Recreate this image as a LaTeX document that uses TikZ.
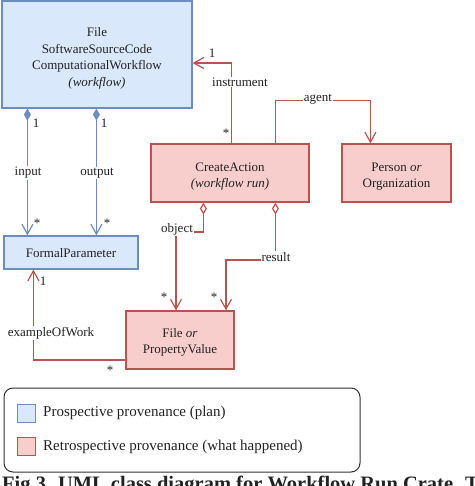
\documentclass[tikz,border=0pt]{standalone}
\usepackage{fontspec}
\setmainfont{Liberation Serif}
\usetikzlibrary{arrows.meta}
\definecolor{bfill}{HTML}{DAE8FC}
\definecolor{bline}{HTML}{6C8EBF}
\definecolor{rfill}{HTML}{F8CECC}
\definecolor{rline}{HTML}{B85450}
\definecolor{txt}{HTML}{222222}
\newcommand{\boxtext}[2][3pt]{\raisebox{-#1}[\height][\depth]{\begin{tabular}{@{}c@{}}#2\end{tabular}}}
\begin{document}
\begin{tikzpicture}[x=1pt,y=-1pt,
  every node/.style={font=\fontsize{13}{16.5}\selectfont, text=txt},
  bluebox/.style={draw=bline, fill=bfill, line width=1.2pt, inner sep=0pt, align=center},
  redbox/.style={draw=rline, fill=rfill, line width=1.2pt, inner sep=0pt, align=center},
  bluecon/.style={draw=bline, line width=1.2pt},
  redcon/.style={draw=rline, line width=1.2pt},
  opentip/.style={-{Straight Barb[length=10pt,width=11pt]}},
  lbl/.style={fill=white, inner sep=1pt},
  mult/.style={inner sep=0pt},
  legtext/.style={anchor=west, inner sep=0pt, font=\fontsize{15}{18}\selectfont},
]
\useasboundingbox (0,0) rectangle (474,486);
% classes
\node[bluebox, minimum width=190pt, minimum height=107pt] (top) at (97,54.5)
  {\boxtext[3.5pt]{File\\SoftwareSourceCode\\ComputationalWorkflow\\\textit{(workflow)}}};
\node[bluebox, minimum width=134pt, minimum height=33pt] (fp) at (71,252.5) {\boxtext[1.5pt]{FormalParameter}};
\node[redbox, minimum width=158pt, minimum height=58pt] (ca) at (230,173)
  {\boxtext{CreateAction\\\textit{(workflow run)}}};
\node[redbox, minimum width=109pt, minimum height=58pt] (pn) at (396.5,173)
  {\boxtext{Person \textit{or}\\Organization}};
\node[redbox, minimum width=108pt, minimum height=58pt] (fo) at (180,340)
  {\boxtext[2pt]{File \textit{or}\\PropertyValue}};
% input / output
\draw[bluecon, {Diamond[length=12pt,width=7pt]}-{Straight Barb[length=10pt,width=11pt]}]
  ([xshift=26pt]top.south west) -- ([xshift=24pt]fp.north west);
\draw[bluecon, {Diamond[length=12pt,width=7pt]}-{Straight Barb[length=10pt,width=11pt]}]
  ([xshift=95pt]top.south west) -- ([xshift=93pt]fp.north west);
\node[lbl] (lin) at (28,173) {input};
\node[lbl] (lout) at (97,173) {output};
\node[mult] (m1) at (36,123) {1};
\node[mult] (m2) at (104,123) {1};
\node[mult] (m3) at (37,223) {*};
\node[mult] (m4) at (107,223) {*};
% instrument
\draw[redcon, opentip] ([xshift=81pt]ca.north west) |- ([yshift=-8.5pt]top.east);
\node[lbl] (linst) at (240,82) {instrument};
\node[mult] (m5) at (212,53) {1};
\node[mult] (m6) at (226,133) {*};
% agent
\draw[redcon, opentip] ([xshift=125pt]ca.north west) -- ++(0,-43) -| ([xshift=29pt]pn.north west);
\node[lbl] (lag) at (318,99) {agent};
% object
\coordinate (objc) at (176,232);
\draw[redcon, {Diamond[open,fill=white,length=12pt,width=7pt]}-{Straight Barb[length=10pt,width=11pt]}]
  ([xshift=53pt]ca.south west) |- (objc) -- (objc |- fo.north);
\node[lbl] (lobj) at (177,229) {object};
% result
\coordinate (resc) at (226,260);
\draw[redcon, {Diamond[open,fill=white,length=12pt,width=7pt]}-{Straight Barb[length=10pt,width=11pt]}]
  ([xshift=125pt]ca.south west) |- (resc) -- (resc |- fo.north);
\node[lbl] (lres) at (276,257) {result};
\node[mult] (m7) at (164,297) {*};
\node[mult] (m8) at (214,297) {*};
% exampleOfWork
\draw[redcon, opentip] ([yshift=-20pt]fo.west) -| ([xshift=30pt]fp.south west);
\node[lbl] (lex) at (51,333) {exampleOfWork};
\node[mult] (m9) at (43,281) {1};
\node[mult] (m10) at (110,370) {*};
% legend
\node[draw=black!80, line width=1pt, rounded corners=9pt, minimum width=356pt, minimum height=84pt, inner sep=0pt] (leg) at (182,430) {};
\node[bluebox, line width=0.8pt, minimum width=18pt, minimum height=18pt] (sw1) at (26,413) {};
\node[redbox, line width=0.8pt, minimum width=18pt, minimum height=18pt] (sw2) at (26,446.5) {};
\node[legtext] (t1) at (43,413) {Prospective provenance (plan)};
\node[legtext] (t2) at (43,446.5) {Retrospective provenance (what happened)};
% caption
\node[anchor=base west, inner sep=0pt, font=\fontsize{20.5}{24}\selectfont\bfseries] (cap) at (2,490)
  {Fig 3. UML class diagram for Workflow Run Crate. T};
\end{tikzpicture}
\end{document}
